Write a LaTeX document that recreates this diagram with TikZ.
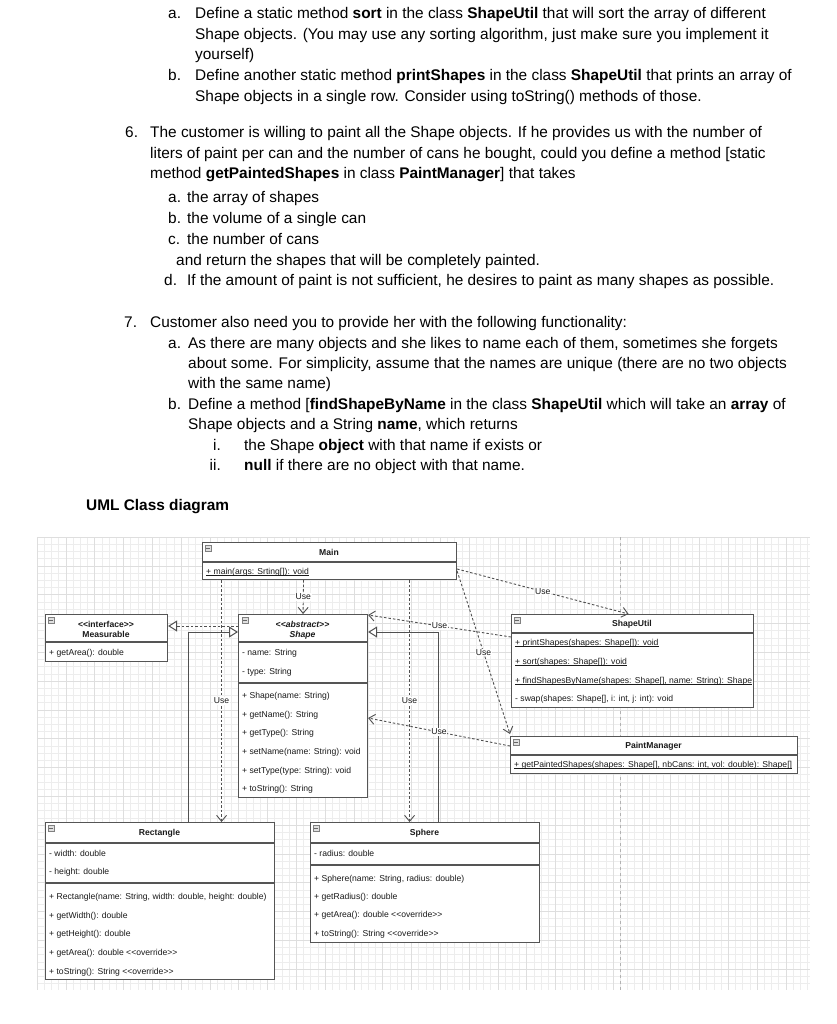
\documentclass[tikz,border=0pt]{standalone}
\usepackage{fontspec}
\setmainfont{Liberation Sans}
\usetikzlibrary{arrows.meta,calc}
\definecolor{boxline}{HTML}{555555}
\definecolor{conn}{HTML}{505050}
\definecolor{txt}{HTML}{1A1A1A}
\newcommand\lgl{<\kern0pt<}
\newcommand\rgl{>\kern0pt>}
\newcommand\uln[1]{\setbox0\hbox{#1}\rlap{\rule[-1.4pt]{\wd0}{0.5pt}}\box0}
\begin{document}
\begin{tikzpicture}[x=1pt,y=-1pt,
  body/.style={anchor=base west, inner sep=0pt, font=\fontsize{15.4}{18}\selectfont, text=black},
  bodyr/.style={anchor=base east, inner sep=0pt, font=\fontsize{15.4}{18}\selectfont, text=black},
  cls/.style={draw=boxline, line width=1.1pt, fill=white, inner sep=0pt, anchor=north west},
  sepl/.style={draw=boxline, line width=1.1pt},
  row/.style={anchor=base west, inner sep=0pt, font=\fontsize{8.6}{10}\selectfont, text=txt},
  ttl/.style={anchor=base, inner sep=0pt, font=\fontsize{8.6}{10}\selectfont\bfseries, text=txt},
  ttli/.style={anchor=base, inner sep=0pt, font=\fontsize{8.6}{10}\selectfont\bfseries\itshape, text=txt},
  lbl/.style={font=\fontsize{8.6}{10}\selectfont, text=txt, fill=white, inner sep=0.6pt},
  dep/.style={draw=conn, line width=0.9pt, dash pattern=on 2.5pt off 2pt,
    -{Straight Barb[length=6pt,width=10pt,line width=0.9pt]}},
  gen/.style={draw=conn, line width=1pt, -{Triangle[length=9pt,width=11pt,fill=white,line width=1pt]}},
  real/.style={draw=conn, line width=0.9pt, dash pattern=on 2.5pt off 2pt,
    -{Triangle[length=9pt,width=11pt,fill=white,line width=1pt]}},
  gminor/.style={draw=black!7, line width=0.5pt},
  gmajor/.style={draw=black!13, line width=0.6pt},
  icon/.pic={\draw[draw=black!50, line width=0.5pt, fill=black!12] (-2.8,-2.8) rectangle (2.8,2.8);
             \draw[draw=black!60, line width=0.6pt] (-1.6,0) -- (1.6,0);}
]
\useasboundingbox (0,0) rectangle (836,1024);
\fill[white] (0,0) rectangle (836,1024);

% ---------------- text ----------------
\node[body] (t1a) at (168,19) {a.};
\node[body] (t1) at (195,19) {Define a static method \textbf{sort} in the class \textbf{ShapeUtil} that will sort the array of different};
\node[body] (t2) at (195,39.5) {Shape objects. (You may use any sorting algorithm, just make sure you implement it};
\node[body] (t3) at (195,60) {yourself)};
\node[body] (t4a) at (168,81) {b.};
\node[body] (t4) at (195,81) {Define another static method \textbf{printShapes} in the class \textbf{ShapeUtil} that prints an array of};
\node[body] (t5) at (195,101.5) {Shape objects in a single row. Consider using toString() methods of those.};

\node[body] (s6n) at (125,138) {6.};
\node[body] (s61) at (150,138) {The customer is willing to paint all the Shape objects. If he provides us with the number of};
\node[body] (s62) at (150,158.5) {liters of paint per can and the number of cans he bought, could you define a method [static};
\node[body] (s63) at (150,179) {method \textbf{getPaintedShapes} in class \textbf{PaintManager}] that takes};
\node[body] (s6aa) at (168,203) {a.};
\node[body] (s6a) at (187,203) {the array of shapes};
\node[body] (s6bb) at (168,224) {b.};
\node[body] (s6b) at (187,224) {the volume of a single can};
\node[body] (s6cc) at (168,244) {c.};
\node[body] (s6c) at (187,244) {the number of cans};
\node[body] (s6r) at (176,265) {and return the shapes that will be completely painted.};
\node[body] (s6dd) at (164,285) {d.};
\node[body] (s6d) at (187,285) {If the amount of paint is not sufficient, he desires to paint as many shapes as possible.};

\node[body] (s7n) at (124,327.5) {7.};
\node[body] (s71) at (150,327.5) {Customer also need you to provide her with the following functionality:};
\node[body] (s7aa) at (168,348) {a.};
\node[body] (s7a1) at (188,348) {As there are many objects and she likes to name each of them, sometimes she forgets};
\node[body] (s7a2) at (188,368) {about some. For simplicity, assume that the names are unique (there are no two objects};
\node[body] (s7a3) at (188,388) {with the same name)};
\node[body] (s7bb) at (168,409) {b.};
\node[body] (s7b1) at (188,409) {Define a method [\textbf{findShapeByName} in the class \textbf{ShapeUtil} which will take an \textbf{array} of};
\node[body] (s7b2) at (188,429.5) {Shape objects and a String \textbf{name}, which returns};
\node[bodyr] (s7ii) at (221,450) {i.};
\node[body] (s7i) at (244,450) {the Shape \textbf{object} with that name if exists or};
\node[bodyr] (s7iii) at (221,470) {ii.};
\node[body] (s7iv) at (244,470) {\textbf{null} if there are no object with that name.};

\node[body, font=\fontsize{15.4}{18}\selectfont\bfseries] (uml) at (86,510.5) {UML Class diagram};

% ---------------- grid ----------------
\foreach \i in {0,...,107} { \draw[gminor] ({37+7.2*\i},537) -- ({37+7.2*\i},990); }
\foreach \j in {0,...,62} { \draw[gminor] (37,{537+7.2*\j}) -- (810,{537+7.2*\j}); }
\foreach \i in {0,...,26} { \draw[gmajor] ({37+28.8*\i},537) -- ({37+28.8*\i},990); }
\foreach \j in {0,...,15} { \draw[gmajor] (37,{537+28.8*\j}) -- (810,{537+28.8*\j}); }
\draw[draw=black!30, line width=0.6pt, dash pattern=on 3pt off 3pt] (620,537) -- (620,990);

% ---------------- classes ----------------
% Main
\node[cls, minimum width=254pt, minimum height=37pt] (main) at (202,542) {};
\draw[sepl] ([yshift=-20pt]main.north west) -- ([yshift=-20pt]main.north east);
\pic at (208,548) {icon};
\node[ttl] (mainT) at (329,555) {Main};
\node[row] (mainR) at (206,574) {\uln{+ main(args: Srting[]): void}};

% Measurable
\node[cls, minimum width=122pt, minimum height=47pt] (meas) at (45,614) {};
\draw[sepl] ([yshift=-28pt]meas.north west) -- ([yshift=-28pt]meas.north east);
\pic at (51,620) {icon};
\node[ttl] (measS) at (106,627) {\lgl interface\rgl};
\node[ttl] (measT) at (106,637) {Measurable};
\node[row] (measR) at (49,655) {+ getArea(): double};

% Shape
\node[cls, minimum width=129pt, minimum height=183pt] (shape) at (238,614) {};
\draw[sepl] ([yshift=-28pt]shape.north west) -- ([yshift=-28pt]shape.north east);
\draw[sepl] ([yshift=-69pt]shape.north west) -- ([yshift=-69pt]shape.north east);
\pic at (245,620) {icon};
\node[ttli] (shapeS) at (302.5,627) {\lgl abstract\rgl};
\node[ttli] (shapeT) at (302.5,637) {Shape};
\node[row] (sh1) at (242,655) {- name: String};
\node[row] (sh2) at (242,674) {- type: String};
\node[row] (sh3) at (242,698) {+ Shape(name: String)};
\node[row] (sh4) at (242,717) {+ getName(): String};
\node[row] (sh5) at (242,735) {+ getType(): String};
\node[row] (sh6) at (242,754) {+ setName(name: String): void};
\node[row] (sh7) at (242,773) {+ setType(type: String): void};
\node[row] (sh8) at (242,791) {+ toString(): String};

% ShapeUtil
\node[cls, minimum width=242pt, minimum height=93pt] (su) at (511,614) {};
\draw[sepl] ([yshift=-19pt]su.north west) -- ([yshift=-19pt]su.north east);
\pic at (517,620) {icon};
\node[ttl] (suT) at (632,626.5) {ShapeUtil};
\node[row] (su1) at (515,645) {\uln{+ printShapes(shapes: Shape[]): void}};
\node[row] (su2) at (515,664) {\uln{+ sort(shapes: Shape[]): void}};
\node[row] (su3) at (515,683) {\uln{+ findShapesByName(shapes: Shape[], name: String): Shape}};
\node[row] (su4) at (515,701) {- swap(shapes: Shape[], i: int, j: int): void};

% PaintManager
\node[cls, minimum width=287pt, minimum height=37pt] (pm) at (510,736) {};
\draw[sepl] ([yshift=-19pt]pm.north west) -- ([yshift=-19pt]pm.north east);
\pic at (516,742) {icon};
\node[ttl] (pmT) at (653.5,748.5) {PaintManager};
\node[row] (pm1) at (514,767) {\uln{+ getPaintedShapes(shapes: Shape[], nbCans: int, vol: double): Shape[]}};

% Rectangle
\node[cls, minimum width=229pt, minimum height=157pt] (rect) at (45,822) {};
\draw[sepl] ([yshift=-21pt]rect.north west) -- ([yshift=-21pt]rect.north east);
\draw[sepl] ([yshift=-61pt]rect.north west) -- ([yshift=-61pt]rect.north east);
\pic at (51,828) {icon};
\node[ttl] (rectT) at (159.5,835.5) {Rectangle};
\node[row] (r1) at (49,856) {- width: double};
\node[row] (r2) at (49,874) {- height: double};
\node[row] (r3) at (49,899) {+ Rectangle(name: String, width: double, height: double)};
\node[row] (r4) at (49,918) {+ getWidth(): double};
\node[row] (r5) at (49,936) {+ getHeight(): double};
\node[row] (r6) at (49,955) {+ getArea(): double \lgl override\rgl};
\node[row] (r7) at (49,974) {+ toString(): String \lgl override\rgl};

% Sphere
\node[cls, minimum width=229pt, minimum height=120pt] (sph) at (310,822) {};
\draw[sepl] ([yshift=-21pt]sph.north west) -- ([yshift=-21pt]sph.north east);
\draw[sepl] ([yshift=-43pt]sph.north west) -- ([yshift=-43pt]sph.north east);
\pic at (316,828) {icon};
\node[ttl] (sphT) at (424.5,835.5) {Sphere};
\node[row] (p1) at (314,856) {- radius: double};
\node[row] (p2) at (314,881) {+ Sphere(name: String, radius: double)};
\node[row] (p3) at (314,899) {+ getRadius(): double};
\node[row] (p4) at (314,917) {+ getArea(): double \lgl override\rgl};
\node[row] (p5) at (314,936) {+ toString(): String \lgl override\rgl};

% ---------------- connectors ----------------
\draw[real] ([yshift=-12pt]shape.north west) -- ([yshift=-12pt]meas.north east);
\draw[gen] ([xshift=28.5pt]rect.north) |- ([yshift=-18pt]shape.north west);
\draw[gen] ([xshift=13.5pt]sph.north) |- ([yshift=-18pt]shape.north east);

\draw[dep] ([xshift=-26pt]main.south) -- (shape.north) node[lbl, midway] (l1) {Use};
\draw[dep] ([xshift=-108pt]main.south) -- ([xshift=61.5pt]rect.north) node[lbl, midway] (l2) {Use};
\draw[dep] ([xshift=80pt]main.south) -- ([xshift=-15.5pt]sph.north) node[lbl, midway] (l3) {Use};
\draw[dep] ([yshift=-27pt]main.north east) -- ([xshift=-4pt]su.north) node[lbl, midway] (l4) {Use};
\draw[dep] ([yshift=-29pt]main.north east) -- ([yshift=2pt]pm.north west) node[lbl, midway] (l5) {Use};
\draw[dep] ([yshift=-23pt]su.north west) -- ([yshift=-1pt]shape.north east) node[lbl, midway] (l6) {Use};
\draw[dep] ([yshift=-10pt]pm.north west) -- ([yshift=-104pt]shape.north east) node[lbl, midway] (l7) {Use};
\end{tikzpicture}
\end{document}
